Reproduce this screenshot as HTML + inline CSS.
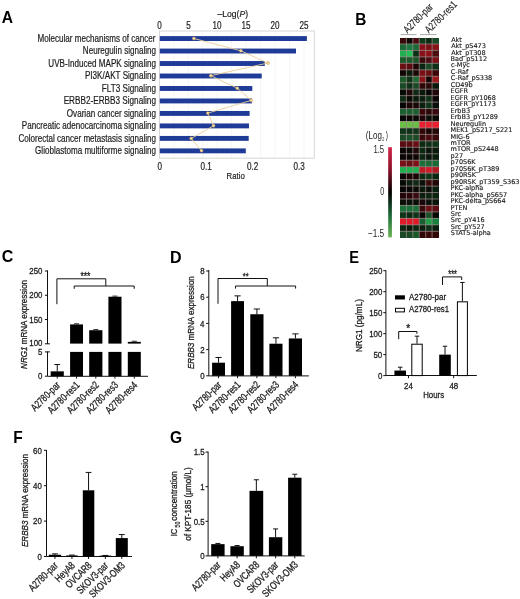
<!DOCTYPE html>
<html><head><meta charset="utf-8"><title>Figure</title>
<style>
html,body{margin:0;padding:0;background:#fff;}
body{width:520px;height:599px;overflow:hidden;}
svg{display:block;font-family:"Liberation Sans", Arial, sans-serif;filter:blur(0.3px);}
</style></head>
<body>
<svg width="520" height="599" viewBox="0 0 520 599" fill="#1c1c1c">
<rect width="520" height="599" fill="#fff"/>
<text transform="translate(1.68,22.60) scale(0.9510,1)" font-size="16.4" font-weight="bold" fill="#000">A</text>
<text transform="translate(355.22,24.50) scale(0.9396,1)" font-size="16.4" font-weight="bold" fill="#000">B</text>
<text transform="translate(1.76,262.40) scale(0.9756,1)" font-size="16.4" font-weight="bold" fill="#000">C</text>
<text transform="translate(169.88,262.50) scale(0.9796,1)" font-size="16.4" font-weight="bold" fill="#000">D</text>
<text transform="translate(349.28,262.50) scale(0.8929,1)" font-size="16.4" font-weight="bold" fill="#000">E</text>
<text transform="translate(13.22,442.90) scale(0.9445,1)" font-size="16.4" font-weight="bold" fill="#000">F</text>
<text transform="translate(169.88,443.20) scale(0.9505,1)" font-size="16.4" font-weight="bold" fill="#000">G</text>
<line x1="173.95" y1="31.00" x2="173.95" y2="158.20" stroke="#f3f3f0" stroke-width="0.8"/>
<line x1="188.40" y1="31.00" x2="188.40" y2="158.20" stroke="#f3f3f0" stroke-width="0.8"/>
<line x1="202.85" y1="31.00" x2="202.85" y2="158.20" stroke="#f3f3f0" stroke-width="0.8"/>
<line x1="217.30" y1="31.00" x2="217.30" y2="158.20" stroke="#f3f3f0" stroke-width="0.8"/>
<line x1="231.75" y1="31.00" x2="231.75" y2="158.20" stroke="#f3f3f0" stroke-width="0.8"/>
<line x1="246.20" y1="31.00" x2="246.20" y2="158.20" stroke="#f3f3f0" stroke-width="0.8"/>
<line x1="260.65" y1="31.00" x2="260.65" y2="158.20" stroke="#f3f3f0" stroke-width="0.8"/>
<line x1="275.10" y1="31.00" x2="275.10" y2="158.20" stroke="#f3f3f0" stroke-width="0.8"/>
<line x1="289.55" y1="31.00" x2="289.55" y2="158.20" stroke="#f3f3f0" stroke-width="0.8"/>
<line x1="304.00" y1="31.00" x2="304.00" y2="158.20" stroke="#f3f3f0" stroke-width="0.8"/>
<rect x="159.50" y="31.00" width="154.80" height="127.20" fill="none" stroke="#d6d6d6" stroke-width="1" />
<rect x="159.80" y="36.10" width="147.10" height="4.90" fill="#1f3b98" />
<text transform="translate(37.45,41.70) scale(0.8092,1)" font-size="10.0" stroke="#1c1c1c" stroke-width="0.2">Molecular mechanisms of cancer</text>
<rect x="159.80" y="48.58" width="136.20" height="4.90" fill="#1f3b98" />
<text transform="translate(82.85,54.22) scale(0.8092,1)" font-size="10.0" stroke="#1c1c1c" stroke-width="0.2">Neuregulin signaling</text>
<rect x="159.80" y="61.06" width="105.00" height="4.90" fill="#1f3b98" />
<text transform="translate(48.35,66.74) scale(0.8113,1)" font-size="10.0" stroke="#1c1c1c" stroke-width="0.2">UVB-Induced MAPK signaling</text>
<rect x="159.80" y="73.54" width="101.90" height="4.90" fill="#1f3b98" />
<text transform="translate(84.95,79.26) scale(0.8121,1)" font-size="10.0" stroke="#1c1c1c" stroke-width="0.2">PI3K/AKT Signaling</text>
<rect x="159.80" y="86.02" width="92.50" height="4.90" fill="#1f3b98" />
<text transform="translate(101.85,91.78) scale(0.8157,1)" font-size="10.0" stroke="#1c1c1c" stroke-width="0.2">FLT3 Signaling</text>
<rect x="159.80" y="98.50" width="92.10" height="4.90" fill="#1f3b98" />
<text transform="translate(63.64,104.30) scale(0.8196,1)" font-size="10.0" stroke="#1c1c1c" stroke-width="0.2">ERBB2-ERBB3 Signaling</text>
<rect x="159.80" y="110.98" width="89.80" height="4.90" fill="#1f3b98" />
<text transform="translate(66.79,116.82) scale(0.8118,1)" font-size="10.0" stroke="#1c1c1c" stroke-width="0.2">Ovarian cancer signaling</text>
<rect x="159.80" y="123.46" width="89.20" height="4.90" fill="#1f3b98" />
<text transform="translate(21.85,129.34) scale(0.8081,1)" font-size="10.0" stroke="#1c1c1c" stroke-width="0.2">Pancreatic adenocarcinoma signaling</text>
<rect x="159.80" y="135.94" width="88.90" height="4.90" fill="#1f3b98" />
<text transform="translate(18.40,141.86) scale(0.8071,1)" font-size="10.0" stroke="#1c1c1c" stroke-width="0.2">Colorectal cancer metastasis signaling</text>
<rect x="159.80" y="148.42" width="86.00" height="4.90" fill="#1f3b98" />
<text transform="translate(35.10,154.38) scale(0.8066,1)" font-size="10.0" stroke="#1c1c1c" stroke-width="0.2">Glioblastoma multiforme signaling</text>
<polyline points="193.9,38.5 240.8,50.8 268.0,63.0 210.8,75.7 237.3,88.2 251.2,100.4 207.8,113.1 213.5,125.8 191.2,138.5 201.5,150.7" fill="none" stroke="#e9cf98" stroke-width="0.9"/>
<circle cx="193.90" cy="38.50" r="1.45" fill="#f0e2b0" stroke="#d49c44" stroke-width="0.6"/>
<circle cx="240.80" cy="50.80" r="1.45" fill="#f0e2b0" stroke="#d49c44" stroke-width="0.6"/>
<circle cx="268.00" cy="63.00" r="1.45" fill="#f0e2b0" stroke="#d49c44" stroke-width="0.6"/>
<circle cx="210.80" cy="75.70" r="1.45" fill="#f0e2b0" stroke="#d49c44" stroke-width="0.6"/>
<circle cx="237.30" cy="88.20" r="1.45" fill="#f0e2b0" stroke="#d49c44" stroke-width="0.6"/>
<circle cx="251.20" cy="100.40" r="1.45" fill="#f0e2b0" stroke="#d49c44" stroke-width="0.6"/>
<circle cx="207.80" cy="113.10" r="1.45" fill="#f0e2b0" stroke="#d49c44" stroke-width="0.6"/>
<circle cx="213.50" cy="125.80" r="1.45" fill="#f0e2b0" stroke="#d49c44" stroke-width="0.6"/>
<circle cx="191.20" cy="138.50" r="1.45" fill="#f0e2b0" stroke="#d49c44" stroke-width="0.6"/>
<circle cx="201.50" cy="150.70" r="1.45" fill="#f0e2b0" stroke="#d49c44" stroke-width="0.6"/>
<text transform="translate(157.23,28.60) scale(0.7800,1)" font-size="10.4" stroke="#1c1c1c" stroke-width="0.2">0</text>
<text transform="translate(186.13,28.60) scale(0.7800,1)" font-size="10.4" stroke="#1c1c1c" stroke-width="0.2">5</text>
<text transform="translate(212.60,28.60) scale(0.7800,1)" font-size="10.4" stroke="#1c1c1c" stroke-width="0.2">10</text>
<text transform="translate(241.50,28.60) scale(0.7800,1)" font-size="10.4" stroke="#1c1c1c" stroke-width="0.2">15</text>
<text transform="translate(270.52,28.60) scale(0.7800,1)" font-size="10.4" stroke="#1c1c1c" stroke-width="0.2">20</text>
<text transform="translate(299.42,28.60) scale(0.7800,1)" font-size="10.4" stroke="#1c1c1c" stroke-width="0.2">25</text>
<text transform="translate(217.50,17.30) scale(0.8771,1)" font-size="9.8" stroke="#1c1c1c" stroke-width="0.2">–Log(<tspan font-style="italic">P</tspan>)</text>
<text transform="translate(157.53,169.70) scale(0.7800,1)" font-size="10.4" stroke="#1c1c1c" stroke-width="0.2">0</text>
<text transform="translate(200.60,169.70) scale(0.7800,1)" font-size="10.4" stroke="#1c1c1c" stroke-width="0.2">0.1</text>
<text transform="translate(247.00,169.70) scale(0.7800,1)" font-size="10.4" stroke="#1c1c1c" stroke-width="0.2">0.2</text>
<text transform="translate(293.40,169.70) scale(0.7800,1)" font-size="10.4" stroke="#1c1c1c" stroke-width="0.2">0.3</text>
<text transform="translate(226.58,178.70) scale(0.7952,1)" font-size="9.8" stroke="#1c1c1c" stroke-width="0.2">Ratio</text>
<g shape-rendering="crispEdges">
<rect x="400.00" y="37.50" width="6.47" height="6.51" fill="#3a0a0a" />
<rect x="406.42" y="37.50" width="6.47" height="6.51" fill="#120a06" />
<rect x="412.84" y="37.50" width="6.47" height="6.51" fill="#4a0c10" />
<rect x="419.26" y="37.50" width="6.47" height="6.51" fill="#0f3a1a" />
<rect x="425.68" y="37.50" width="6.47" height="6.51" fill="#0a2a10" />
<rect x="432.10" y="37.50" width="6.47" height="6.51" fill="#1a4a25" />
<rect x="400.00" y="43.96" width="6.47" height="6.51" fill="#1a6a35" />
<rect x="406.42" y="43.96" width="6.47" height="6.51" fill="#1a7a40" />
<rect x="412.84" y="43.96" width="6.47" height="6.51" fill="#1a6a35" />
<rect x="419.26" y="43.96" width="6.47" height="6.51" fill="#8a1018" />
<rect x="425.68" y="43.96" width="6.47" height="6.51" fill="#7a1015" />
<rect x="432.10" y="43.96" width="6.47" height="6.51" fill="#8a1518" />
<rect x="400.00" y="50.42" width="6.47" height="6.51" fill="#20b050" />
<rect x="406.42" y="50.42" width="6.47" height="6.51" fill="#25c055" />
<rect x="412.84" y="50.42" width="6.47" height="6.51" fill="#0a3015" />
<rect x="419.26" y="50.42" width="6.47" height="6.51" fill="#8a1018" />
<rect x="425.68" y="50.42" width="6.47" height="6.51" fill="#901018" />
<rect x="432.10" y="50.42" width="6.47" height="6.51" fill="#4a1010" />
<rect x="400.00" y="56.88" width="6.47" height="6.51" fill="#1a5a2a" />
<rect x="406.42" y="56.88" width="6.47" height="6.51" fill="#1a5a2a" />
<rect x="412.84" y="56.88" width="6.47" height="6.51" fill="#1a5528" />
<rect x="419.26" y="56.88" width="6.47" height="6.51" fill="#3a0a0a" />
<rect x="425.68" y="56.88" width="6.47" height="6.51" fill="#4a0c10" />
<rect x="432.10" y="56.88" width="6.47" height="6.51" fill="#7a1015" />
<rect x="400.00" y="63.34" width="6.47" height="6.51" fill="#6a1015" />
<rect x="406.42" y="63.34" width="6.47" height="6.51" fill="#5a0c10" />
<rect x="412.84" y="63.34" width="6.47" height="6.51" fill="#200505" />
<rect x="419.26" y="63.34" width="6.47" height="6.51" fill="#0a2512" />
<rect x="425.68" y="63.34" width="6.47" height="6.51" fill="#1a4a25" />
<rect x="432.10" y="63.34" width="6.47" height="6.51" fill="#0f3018" />
<rect x="400.00" y="69.80" width="6.47" height="6.51" fill="#100505" />
<rect x="406.42" y="69.80" width="6.47" height="6.51" fill="#0a1a0a" />
<rect x="412.84" y="69.80" width="6.47" height="6.51" fill="#1a0a05" />
<rect x="419.26" y="69.80" width="6.47" height="6.51" fill="#7a1015" />
<rect x="425.68" y="69.80" width="6.47" height="6.51" fill="#6a1010" />
<rect x="432.10" y="69.80" width="6.47" height="6.51" fill="#3a0808" />
<rect x="400.00" y="76.26" width="6.47" height="6.51" fill="#1a5a2a" />
<rect x="406.42" y="76.26" width="6.47" height="6.51" fill="#0f3518" />
<rect x="412.84" y="76.26" width="6.47" height="6.51" fill="#206a35" />
<rect x="419.26" y="76.26" width="6.47" height="6.51" fill="#8a1518" />
<rect x="425.68" y="76.26" width="6.47" height="6.51" fill="#150505" />
<rect x="432.10" y="76.26" width="6.47" height="6.51" fill="#9a1a1a" />
<rect x="400.00" y="82.72" width="6.47" height="6.51" fill="#1a4a25" />
<rect x="406.42" y="82.72" width="6.47" height="6.51" fill="#0f3018" />
<rect x="412.84" y="82.72" width="6.47" height="6.51" fill="#1a4a25" />
<rect x="419.26" y="82.72" width="6.47" height="6.51" fill="#300808" />
<rect x="425.68" y="82.72" width="6.47" height="6.51" fill="#2a0a0a" />
<rect x="432.10" y="82.72" width="6.47" height="6.51" fill="#0a1a0a" />
<rect x="400.00" y="89.18" width="6.47" height="6.51" fill="#050a05" />
<rect x="406.42" y="89.18" width="6.47" height="6.51" fill="#200808" />
<rect x="412.84" y="89.18" width="6.47" height="6.51" fill="#0f2a15" />
<rect x="419.26" y="89.18" width="6.47" height="6.51" fill="#0a1a0a" />
<rect x="425.68" y="89.18" width="6.47" height="6.51" fill="#050505" />
<rect x="432.10" y="89.18" width="6.47" height="6.51" fill="#200808" />
<rect x="400.00" y="95.64" width="6.47" height="6.51" fill="#0f2a15" />
<rect x="406.42" y="95.64" width="6.47" height="6.51" fill="#0a0a05" />
<rect x="412.84" y="95.64" width="6.47" height="6.51" fill="#0a1a0a" />
<rect x="419.26" y="95.64" width="6.47" height="6.51" fill="#0a1f10" />
<rect x="425.68" y="95.64" width="6.47" height="6.51" fill="#0f3018" />
<rect x="432.10" y="95.64" width="6.47" height="6.51" fill="#0a0505" />
<rect x="400.00" y="102.10" width="6.47" height="6.51" fill="#050505" />
<rect x="406.42" y="102.10" width="6.47" height="6.51" fill="#1a0505" />
<rect x="412.84" y="102.10" width="6.47" height="6.51" fill="#1a0808" />
<rect x="419.26" y="102.10" width="6.47" height="6.51" fill="#0a1f10" />
<rect x="425.68" y="102.10" width="6.47" height="6.51" fill="#0f3518" />
<rect x="432.10" y="102.10" width="6.47" height="6.51" fill="#0a100a" />
<rect x="400.00" y="108.56" width="6.47" height="6.51" fill="#1a6030" />
<rect x="406.42" y="108.56" width="6.47" height="6.51" fill="#1a6030" />
<rect x="412.84" y="108.56" width="6.47" height="6.51" fill="#1a6030" />
<rect x="419.26" y="108.56" width="6.47" height="6.51" fill="#3a0808" />
<rect x="425.68" y="108.56" width="6.47" height="6.51" fill="#2a0808" />
<rect x="432.10" y="108.56" width="6.47" height="6.51" fill="#3a0a10" />
<rect x="400.00" y="115.02" width="6.47" height="6.51" fill="#050505" />
<rect x="406.42" y="115.02" width="6.47" height="6.51" fill="#0a0505" />
<rect x="412.84" y="115.02" width="6.47" height="6.51" fill="#0a0a05" />
<rect x="419.26" y="115.02" width="6.47" height="6.51" fill="#200508" />
<rect x="425.68" y="115.02" width="6.47" height="6.51" fill="#0a0f0a" />
<rect x="432.10" y="115.02" width="6.47" height="6.51" fill="#0a0a05" />
<rect x="400.00" y="121.48" width="6.47" height="6.51" fill="#6abf45" />
<rect x="406.42" y="121.48" width="6.47" height="6.51" fill="#6abf45" />
<rect x="412.84" y="121.48" width="6.47" height="6.51" fill="#6abf45" />
<rect x="419.26" y="121.48" width="6.47" height="6.51" fill="#e82030" />
<rect x="425.68" y="121.48" width="6.47" height="6.51" fill="#e82030" />
<rect x="432.10" y="121.48" width="6.47" height="6.51" fill="#e82030" />
<rect x="400.00" y="127.94" width="6.47" height="6.51" fill="#0f3518" />
<rect x="406.42" y="127.94" width="6.47" height="6.51" fill="#0f3018" />
<rect x="412.84" y="127.94" width="6.47" height="6.51" fill="#0f3518" />
<rect x="419.26" y="127.94" width="6.47" height="6.51" fill="#300808" />
<rect x="425.68" y="127.94" width="6.47" height="6.51" fill="#1a0505" />
<rect x="432.10" y="127.94" width="6.47" height="6.51" fill="#250808" />
<rect x="400.00" y="134.40" width="6.47" height="6.51" fill="#1a4a25" />
<rect x="406.42" y="134.40" width="6.47" height="6.51" fill="#1a5028" />
<rect x="412.84" y="134.40" width="6.47" height="6.51" fill="#1a4a25" />
<rect x="419.26" y="134.40" width="6.47" height="6.51" fill="#3a0a0a" />
<rect x="425.68" y="134.40" width="6.47" height="6.51" fill="#4a0a10" />
<rect x="432.10" y="134.40" width="6.47" height="6.51" fill="#3a0a0a" />
<rect x="400.00" y="140.86" width="6.47" height="6.51" fill="#5a0c10" />
<rect x="406.42" y="140.86" width="6.47" height="6.51" fill="#5a0c10" />
<rect x="412.84" y="140.86" width="6.47" height="6.51" fill="#6a1015" />
<rect x="419.26" y="140.86" width="6.47" height="6.51" fill="#0a2a12" />
<rect x="425.68" y="140.86" width="6.47" height="6.51" fill="#0f3018" />
<rect x="432.10" y="140.86" width="6.47" height="6.51" fill="#0f3518" />
<rect x="400.00" y="147.32" width="6.47" height="6.51" fill="#0a0505" />
<rect x="406.42" y="147.32" width="6.47" height="6.51" fill="#0a0a05" />
<rect x="412.84" y="147.32" width="6.47" height="6.51" fill="#200808" />
<rect x="419.26" y="147.32" width="6.47" height="6.51" fill="#0a2a12" />
<rect x="425.68" y="147.32" width="6.47" height="6.51" fill="#0a150a" />
<rect x="432.10" y="147.32" width="6.47" height="6.51" fill="#0a1a0a" />
<rect x="400.00" y="153.78" width="6.47" height="6.51" fill="#0a0505" />
<rect x="406.42" y="153.78" width="6.47" height="6.51" fill="#0a0505" />
<rect x="412.84" y="153.78" width="6.47" height="6.51" fill="#100505" />
<rect x="419.26" y="153.78" width="6.47" height="6.51" fill="#0a2510" />
<rect x="425.68" y="153.78" width="6.47" height="6.51" fill="#0a150a" />
<rect x="432.10" y="153.78" width="6.47" height="6.51" fill="#0a200f" />
<rect x="400.00" y="160.24" width="6.47" height="6.51" fill="#7a1018" />
<rect x="406.42" y="160.24" width="6.47" height="6.51" fill="#6a1015" />
<rect x="412.84" y="160.24" width="6.47" height="6.51" fill="#801018" />
<rect x="419.26" y="160.24" width="6.47" height="6.51" fill="#1a7038" />
<rect x="425.68" y="160.24" width="6.47" height="6.51" fill="#1a6a35" />
<rect x="432.10" y="160.24" width="6.47" height="6.51" fill="#1a6a35" />
<rect x="400.00" y="166.70" width="6.47" height="6.51" fill="#20b050" />
<rect x="406.42" y="166.70" width="6.47" height="6.51" fill="#20b050" />
<rect x="412.84" y="166.70" width="6.47" height="6.51" fill="#20b050" />
<rect x="419.26" y="166.70" width="6.47" height="6.51" fill="#c01a25" />
<rect x="425.68" y="166.70" width="6.47" height="6.51" fill="#d01a28" />
<rect x="432.10" y="166.70" width="6.47" height="6.51" fill="#b01a22" />
<rect x="400.00" y="173.16" width="6.47" height="6.51" fill="#0a0505" />
<rect x="406.42" y="173.16" width="6.47" height="6.51" fill="#1a0505" />
<rect x="412.84" y="173.16" width="6.47" height="6.51" fill="#1a0505" />
<rect x="419.26" y="173.16" width="6.47" height="6.51" fill="#0a2a12" />
<rect x="425.68" y="173.16" width="6.47" height="6.51" fill="#0f3518" />
<rect x="432.10" y="173.16" width="6.47" height="6.51" fill="#0a2510" />
<rect x="400.00" y="179.62" width="6.47" height="6.51" fill="#050a05" />
<rect x="406.42" y="179.62" width="6.47" height="6.51" fill="#0a1f0f" />
<rect x="412.84" y="179.62" width="6.47" height="6.51" fill="#0f2a15" />
<rect x="419.26" y="179.62" width="6.47" height="6.51" fill="#0a100a" />
<rect x="425.68" y="179.62" width="6.47" height="6.51" fill="#3a0a0a" />
<rect x="432.10" y="179.62" width="6.47" height="6.51" fill="#200808" />
<rect x="400.00" y="186.08" width="6.47" height="6.51" fill="#050505" />
<rect x="406.42" y="186.08" width="6.47" height="6.51" fill="#0a0505" />
<rect x="412.84" y="186.08" width="6.47" height="6.51" fill="#0a0a05" />
<rect x="419.26" y="186.08" width="6.47" height="6.51" fill="#0a1a0a" />
<rect x="425.68" y="186.08" width="6.47" height="6.51" fill="#0a0f0a" />
<rect x="432.10" y="186.08" width="6.47" height="6.51" fill="#0a200f" />
<rect x="400.00" y="192.54" width="6.47" height="6.51" fill="#200508" />
<rect x="406.42" y="192.54" width="6.47" height="6.51" fill="#2a0508" />
<rect x="412.84" y="192.54" width="6.47" height="6.51" fill="#3a0a10" />
<rect x="419.26" y="192.54" width="6.47" height="6.51" fill="#0a1f0f" />
<rect x="425.68" y="192.54" width="6.47" height="6.51" fill="#0a2510" />
<rect x="432.10" y="192.54" width="6.47" height="6.51" fill="#0a2510" />
<rect x="400.00" y="199.00" width="6.47" height="6.51" fill="#0a0f05" />
<rect x="406.42" y="199.00" width="6.47" height="6.51" fill="#0a100a" />
<rect x="412.84" y="199.00" width="6.47" height="6.51" fill="#0a0f05" />
<rect x="419.26" y="199.00" width="6.47" height="6.51" fill="#1a0508" />
<rect x="425.68" y="199.00" width="6.47" height="6.51" fill="#0a100a" />
<rect x="432.10" y="199.00" width="6.47" height="6.51" fill="#0a150a" />
<rect x="400.00" y="205.46" width="6.47" height="6.51" fill="#1a7038" />
<rect x="406.42" y="205.46" width="6.47" height="6.51" fill="#1a7038" />
<rect x="412.84" y="205.46" width="6.47" height="6.51" fill="#1a7038" />
<rect x="419.26" y="205.46" width="6.47" height="6.51" fill="#3a0a0a" />
<rect x="425.68" y="205.46" width="6.47" height="6.51" fill="#6a1015" />
<rect x="432.10" y="205.46" width="6.47" height="6.51" fill="#5a0c12" />
<rect x="400.00" y="211.92" width="6.47" height="6.51" fill="#0f3518" />
<rect x="406.42" y="211.92" width="6.47" height="6.51" fill="#0a2a12" />
<rect x="412.84" y="211.92" width="6.47" height="6.51" fill="#0f3518" />
<rect x="419.26" y="211.92" width="6.47" height="6.51" fill="#050505" />
<rect x="425.68" y="211.92" width="6.47" height="6.51" fill="#1a5028" />
<rect x="432.10" y="211.92" width="6.47" height="6.51" fill="#050a05" />
<rect x="400.00" y="218.38" width="6.47" height="6.51" fill="#e01a28" />
<rect x="406.42" y="218.38" width="6.47" height="6.51" fill="#e01a28" />
<rect x="412.84" y="218.38" width="6.47" height="6.51" fill="#e01a28" />
<rect x="419.26" y="218.38" width="6.47" height="6.51" fill="#1a6030" />
<rect x="425.68" y="218.38" width="6.47" height="6.51" fill="#20a045" />
<rect x="432.10" y="218.38" width="6.47" height="6.51" fill="#1a8040" />
<rect x="400.00" y="224.84" width="6.47" height="6.51" fill="#0a2510" />
<rect x="406.42" y="224.84" width="6.47" height="6.51" fill="#0a1a0a" />
<rect x="412.84" y="224.84" width="6.47" height="6.51" fill="#0a2510" />
<rect x="419.26" y="224.84" width="6.47" height="6.51" fill="#0a200f" />
<rect x="425.68" y="224.84" width="6.47" height="6.51" fill="#0f3018" />
<rect x="432.10" y="224.84" width="6.47" height="6.51" fill="#0a1f0f" />
<rect x="400.00" y="231.30" width="6.47" height="6.51" fill="#1a4a25" />
<rect x="406.42" y="231.30" width="6.47" height="6.51" fill="#1a4a25" />
<rect x="412.84" y="231.30" width="6.47" height="6.51" fill="#1a5a2a" />
<rect x="419.26" y="231.30" width="6.47" height="6.51" fill="#300808" />
<rect x="425.68" y="231.30" width="6.47" height="6.51" fill="#3a0a0a" />
<rect x="432.10" y="231.30" width="6.47" height="6.51" fill="#300808" />
</g>
<line x1="406.42" y1="37.50" x2="406.42" y2="237.76" stroke="#9a8a8a" stroke-width="0.75"/>
<line x1="412.84" y1="37.50" x2="412.84" y2="237.76" stroke="#9a8a8a" stroke-width="0.75"/>
<line x1="419.26" y1="37.50" x2="419.26" y2="237.76" stroke="#9a8a8a" stroke-width="0.75"/>
<line x1="425.68" y1="37.50" x2="425.68" y2="237.76" stroke="#9a8a8a" stroke-width="0.75"/>
<line x1="432.10" y1="37.50" x2="432.10" y2="237.76" stroke="#9a8a8a" stroke-width="0.75"/>
<line x1="400.00" y1="43.96" x2="438.52" y2="43.96" stroke="#9a8a8a" stroke-width="0.75"/>
<line x1="400.00" y1="50.42" x2="438.52" y2="50.42" stroke="#9a8a8a" stroke-width="0.75"/>
<line x1="400.00" y1="56.88" x2="438.52" y2="56.88" stroke="#9a8a8a" stroke-width="0.75"/>
<line x1="400.00" y1="63.34" x2="438.52" y2="63.34" stroke="#9a8a8a" stroke-width="0.75"/>
<line x1="400.00" y1="69.80" x2="438.52" y2="69.80" stroke="#9a8a8a" stroke-width="0.75"/>
<line x1="400.00" y1="76.26" x2="438.52" y2="76.26" stroke="#9a8a8a" stroke-width="0.75"/>
<line x1="400.00" y1="82.72" x2="438.52" y2="82.72" stroke="#9a8a8a" stroke-width="0.75"/>
<line x1="400.00" y1="89.18" x2="438.52" y2="89.18" stroke="#9a8a8a" stroke-width="0.75"/>
<line x1="400.00" y1="95.64" x2="438.52" y2="95.64" stroke="#9a8a8a" stroke-width="0.75"/>
<line x1="400.00" y1="102.10" x2="438.52" y2="102.10" stroke="#9a8a8a" stroke-width="0.75"/>
<line x1="400.00" y1="108.56" x2="438.52" y2="108.56" stroke="#9a8a8a" stroke-width="0.75"/>
<line x1="400.00" y1="115.02" x2="438.52" y2="115.02" stroke="#9a8a8a" stroke-width="0.75"/>
<line x1="400.00" y1="121.48" x2="438.52" y2="121.48" stroke="#9a8a8a" stroke-width="0.75"/>
<line x1="400.00" y1="127.94" x2="438.52" y2="127.94" stroke="#9a8a8a" stroke-width="0.75"/>
<line x1="400.00" y1="134.40" x2="438.52" y2="134.40" stroke="#9a8a8a" stroke-width="0.75"/>
<line x1="400.00" y1="140.86" x2="438.52" y2="140.86" stroke="#9a8a8a" stroke-width="0.75"/>
<line x1="400.00" y1="147.32" x2="438.52" y2="147.32" stroke="#9a8a8a" stroke-width="0.75"/>
<line x1="400.00" y1="153.78" x2="438.52" y2="153.78" stroke="#9a8a8a" stroke-width="0.75"/>
<line x1="400.00" y1="160.24" x2="438.52" y2="160.24" stroke="#9a8a8a" stroke-width="0.75"/>
<line x1="400.00" y1="166.70" x2="438.52" y2="166.70" stroke="#9a8a8a" stroke-width="0.75"/>
<line x1="400.00" y1="173.16" x2="438.52" y2="173.16" stroke="#9a8a8a" stroke-width="0.75"/>
<line x1="400.00" y1="179.62" x2="438.52" y2="179.62" stroke="#9a8a8a" stroke-width="0.75"/>
<line x1="400.00" y1="186.08" x2="438.52" y2="186.08" stroke="#9a8a8a" stroke-width="0.75"/>
<line x1="400.00" y1="192.54" x2="438.52" y2="192.54" stroke="#9a8a8a" stroke-width="0.75"/>
<line x1="400.00" y1="199.00" x2="438.52" y2="199.00" stroke="#9a8a8a" stroke-width="0.75"/>
<line x1="400.00" y1="205.46" x2="438.52" y2="205.46" stroke="#9a8a8a" stroke-width="0.75"/>
<line x1="400.00" y1="211.92" x2="438.52" y2="211.92" stroke="#9a8a8a" stroke-width="0.75"/>
<line x1="400.00" y1="218.38" x2="438.52" y2="218.38" stroke="#9a8a8a" stroke-width="0.75"/>
<line x1="400.00" y1="224.84" x2="438.52" y2="224.84" stroke="#9a8a8a" stroke-width="0.75"/>
<line x1="400.00" y1="231.30" x2="438.52" y2="231.30" stroke="#9a8a8a" stroke-width="0.75"/>
<text transform="translate(451.13,41.60)" font-size="6.5" font-family='"DejaVu Sans", sans-serif' stroke="#1c1c1c" stroke-width="0.15">Akt</text>
<text transform="translate(451.13,48.06)" font-size="6.5" font-family='"DejaVu Sans", sans-serif' stroke="#1c1c1c" stroke-width="0.15">Akt_pS473</text>
<text transform="translate(451.13,54.52)" font-size="6.5" font-family='"DejaVu Sans", sans-serif' stroke="#1c1c1c" stroke-width="0.15">Akt_pT308</text>
<text transform="translate(450.55,60.98)" font-size="6.5" font-family='"DejaVu Sans", sans-serif' stroke="#1c1c1c" stroke-width="0.15">Bad_pS112</text>
<text transform="translate(450.88,67.44)" font-size="6.5" font-family='"DejaVu Sans", sans-serif' stroke="#1c1c1c" stroke-width="0.15">c-Myc</text>
<text transform="translate(450.81,73.90)" font-size="6.5" font-family='"DejaVu Sans", sans-serif' stroke="#1c1c1c" stroke-width="0.15">C-Raf</text>
<text transform="translate(450.81,80.36)" font-size="6.5" font-family='"DejaVu Sans", sans-serif' stroke="#1c1c1c" stroke-width="0.15">C-Raf_pS338</text>
<text transform="translate(450.81,86.82)" font-size="6.5" font-family='"DejaVu Sans", sans-serif' stroke="#1c1c1c" stroke-width="0.15">CD49b</text>
<text transform="translate(450.55,93.28)" font-size="6.5" font-family='"DejaVu Sans", sans-serif' stroke="#1c1c1c" stroke-width="0.15">EGFR</text>
<text transform="translate(450.55,99.74)" font-size="6.5" font-family='"DejaVu Sans", sans-serif' stroke="#1c1c1c" stroke-width="0.15">EGFR_pY1068</text>
<text transform="translate(450.55,106.20)" font-size="6.5" font-family='"DejaVu Sans", sans-serif' stroke="#1c1c1c" stroke-width="0.15">EGFR_pY1173</text>
<text transform="translate(450.55,112.66)" font-size="6.5" font-family='"DejaVu Sans", sans-serif' stroke="#1c1c1c" stroke-width="0.15">ErbB3</text>
<text transform="translate(450.55,119.12)" font-size="6.5" font-family='"DejaVu Sans", sans-serif' stroke="#1c1c1c" stroke-width="0.15">ErbB3_pY1289</text>
<text transform="translate(450.55,125.58)" font-size="6.5" font-family='"DejaVu Sans", sans-serif' stroke="#1c1c1c" stroke-width="0.15">Neuregulin</text>
<text transform="translate(450.55,132.04)" font-size="6.5" font-family='"DejaVu Sans", sans-serif' stroke="#1c1c1c" stroke-width="0.15">MEK1_pS217_S221</text>
<text transform="translate(450.55,138.50)" font-size="6.5" font-family='"DejaVu Sans", sans-serif' stroke="#1c1c1c" stroke-width="0.15">MIG-6</text>
<text transform="translate(450.62,144.96)" font-size="6.5" font-family='"DejaVu Sans", sans-serif' stroke="#1c1c1c" stroke-width="0.15">mTOR</text>
<text transform="translate(450.62,151.42)" font-size="6.5" font-family='"DejaVu Sans", sans-serif' stroke="#1c1c1c" stroke-width="0.15">mTOR_pS2448</text>
<text transform="translate(450.62,157.88)" font-size="6.5" font-family='"DejaVu Sans", sans-serif' stroke="#1c1c1c" stroke-width="0.15">p27</text>
<text transform="translate(450.62,164.34)" font-size="6.5" font-family='"DejaVu Sans", sans-serif' stroke="#1c1c1c" stroke-width="0.15">p70S6K</text>
<text transform="translate(450.62,170.80)" font-size="6.5" font-family='"DejaVu Sans", sans-serif' stroke="#1c1c1c" stroke-width="0.15">p70S6K_pT389</text>
<text transform="translate(450.62,177.26)" font-size="6.5" font-family='"DejaVu Sans", sans-serif' stroke="#1c1c1c" stroke-width="0.15">p90RSK</text>
<text transform="translate(450.62,183.72)" font-size="6.5" font-family='"DejaVu Sans", sans-serif' stroke="#1c1c1c" stroke-width="0.15">p90RSK_pT359_S363</text>
<text transform="translate(450.55,190.18)" font-size="6.5" font-family='"DejaVu Sans", sans-serif' stroke="#1c1c1c" stroke-width="0.15">PKC-alpha</text>
<text transform="translate(450.55,196.64)" font-size="6.5" font-family='"DejaVu Sans", sans-serif' stroke="#1c1c1c" stroke-width="0.15">PKC-alpha_pS657</text>
<text transform="translate(450.55,203.10)" font-size="6.5" font-family='"DejaVu Sans", sans-serif' stroke="#1c1c1c" stroke-width="0.15">PKC-delta_pS664</text>
<text transform="translate(450.55,209.56)" font-size="6.5" font-family='"DejaVu Sans", sans-serif' stroke="#1c1c1c" stroke-width="0.15">PTEN</text>
<text transform="translate(450.75,216.02)" font-size="6.5" font-family='"DejaVu Sans", sans-serif' stroke="#1c1c1c" stroke-width="0.15">Src</text>
<text transform="translate(450.75,222.48)" font-size="6.5" font-family='"DejaVu Sans", sans-serif' stroke="#1c1c1c" stroke-width="0.15">Src_pY416</text>
<text transform="translate(450.75,228.94)" font-size="6.5" font-family='"DejaVu Sans", sans-serif' stroke="#1c1c1c" stroke-width="0.15">Src_pY527</text>
<text transform="translate(450.75,235.40)" font-size="6.5" font-family='"DejaVu Sans", sans-serif' stroke="#1c1c1c" stroke-width="0.15">STAT5-alpha</text>
<line x1="400.50" y1="34.60" x2="416.50" y2="34.60" stroke="#a8a8a8" stroke-width="1.0"/>
<line x1="420.00" y1="34.60" x2="436.50" y2="34.60" stroke="#a8a8a8" stroke-width="1.0"/>
<text transform="translate(407.50,33.80) rotate(-45) scale(0.7562,1)" font-size="10.5" stroke="#1c1c1c" stroke-width="0.15">A2780-par</text>
<text transform="translate(429.00,33.80) rotate(-45) scale(0.7440,1)" font-size="10.5" stroke="#1c1c1c" stroke-width="0.15">A2780-res1</text>
<defs><linearGradient id="cb" x1="0" y1="0" x2="0" y2="1"><stop offset="0" stop-color="#d42448"/><stop offset="0.25" stop-color="#8a1228"/><stop offset="0.5" stop-color="#000000"/><stop offset="0.75" stop-color="#1e6a3a"/><stop offset="1" stop-color="#6cb455"/></linearGradient></defs>
<rect x="388.20" y="147.20" width="3.70" height="90.20" fill="url(#cb)" />
<text transform="translate(365.82,138.70) scale(0.8032,1)" font-size="10.0">(Log</text>
<text transform="translate(382.13,141.20) scale(0.5797,1)" font-size="6.0">2</text>
<text transform="translate(385.63,138.70) scale(0.6538,1)" font-size="10.0">)</text>
<text transform="translate(373.38,153.30) scale(0.7565,1)" font-size="10.2">1.5</text>
<text transform="translate(380.22,194.90) scale(0.6944,1)" font-size="10.2">0</text>
<text transform="translate(367.89,236.80) scale(0.8092,1)" font-size="10.2">−1.5</text>
<line x1="47.50" y1="270.40" x2="47.50" y2="344.00" stroke="#111" stroke-width="1"/>
<line x1="44.90" y1="343.80" x2="49.90" y2="343.80" stroke="#111" stroke-width="1"/>
<text transform="translate(29.33,345.80) scale(0.8400,1)" font-size="9.4" stroke="#1c1c1c" stroke-width="0.3">100</text>
<line x1="44.90" y1="319.53" x2="47.50" y2="319.53" stroke="#111" stroke-width="1"/>
<text transform="translate(29.33,322.73) scale(0.8400,1)" font-size="9.4" stroke="#1c1c1c" stroke-width="0.3">150</text>
<line x1="44.90" y1="295.27" x2="47.50" y2="295.27" stroke="#111" stroke-width="1"/>
<text transform="translate(29.33,298.47) scale(0.8400,1)" font-size="9.4" stroke="#1c1c1c" stroke-width="0.3">200</text>
<line x1="44.90" y1="271.00" x2="47.50" y2="271.00" stroke="#111" stroke-width="1"/>
<text transform="translate(29.33,274.20) scale(0.8400,1)" font-size="9.4" stroke="#1c1c1c" stroke-width="0.3">250</text>
<line x1="47.50" y1="351.60" x2="47.50" y2="376.20" stroke="#111" stroke-width="1"/>
<line x1="44.90" y1="376.20" x2="47.50" y2="376.20" stroke="#111" stroke-width="1"/>
<text transform="translate(38.09,379.40) scale(0.8400,1)" font-size="9.4" stroke="#1c1c1c" stroke-width="0.3">0</text>
<line x1="44.90" y1="351.90" x2="49.90" y2="351.90" stroke="#111" stroke-width="1"/>
<text transform="translate(38.09,355.10) scale(0.8400,1)" font-size="9.4" stroke="#1c1c1c" stroke-width="0.3">5</text>
<line x1="47.50" y1="376.30" x2="148.00" y2="376.30" stroke="#111" stroke-width="1"/>
<line x1="57.25" y1="376.20" x2="57.25" y2="378.60" stroke="#111" stroke-width="1"/>
<line x1="57.25" y1="371.34" x2="57.25" y2="364.54" stroke="#111" stroke-width="1.0"/>
<line x1="54.35" y1="364.54" x2="60.15" y2="364.54" stroke="#111" stroke-width="1.0"/>
<rect x="50.70" y="371.34" width="13.10" height="4.86" fill="#000" />
<text transform="translate(35.05,411.70) rotate(-45) scale(0.7500,1)" font-size="10.4" stroke="#1c1c1c" stroke-width="0.3">A2780-par</text>
<line x1="76.55" y1="376.20" x2="76.55" y2="378.60" stroke="#111" stroke-width="1"/>
<rect x="70.10" y="351.90" width="12.90" height="24.30" fill="#000" />
<rect x="70.10" y="324.39" width="12.90" height="19.21" fill="#000" />
<line x1="74.05" y1="323.79" x2="79.05" y2="323.79" stroke="#111" stroke-width="0.9"/>
<text transform="translate(51.81,414.24) rotate(-45) scale(0.7500,1)" font-size="10.4" stroke="#1c1c1c" stroke-width="0.3">A2780-res1</text>
<line x1="95.80" y1="376.20" x2="95.80" y2="378.60" stroke="#111" stroke-width="1"/>
<rect x="89.20" y="351.90" width="13.20" height="24.30" fill="#000" />
<rect x="89.20" y="330.21" width="13.20" height="13.39" fill="#000" />
<line x1="93.30" y1="329.61" x2="98.30" y2="329.61" stroke="#111" stroke-width="0.9"/>
<text transform="translate(71.06,414.24) rotate(-45) scale(0.7500,1)" font-size="10.4" stroke="#1c1c1c" stroke-width="0.3">A2780-res2</text>
<line x1="114.95" y1="376.20" x2="114.95" y2="378.60" stroke="#111" stroke-width="1"/>
<rect x="108.40" y="351.90" width="13.10" height="24.30" fill="#000" />
<rect x="108.40" y="296.72" width="13.10" height="46.88" fill="#000" />
<line x1="112.45" y1="296.12" x2="117.45" y2="296.12" stroke="#111" stroke-width="0.9"/>
<text transform="translate(90.21,414.24) rotate(-45) scale(0.7500,1)" font-size="10.4" stroke="#1c1c1c" stroke-width="0.3">A2780-res3</text>
<line x1="134.30" y1="376.20" x2="134.30" y2="378.60" stroke="#111" stroke-width="1"/>
<rect x="127.80" y="351.90" width="13.00" height="24.30" fill="#000" />
<rect x="127.80" y="341.86" width="13.00" height="1.74" fill="#000" />
<line x1="131.80" y1="341.26" x2="136.80" y2="341.26" stroke="#111" stroke-width="0.9"/>
<text transform="translate(109.45,414.35) rotate(-45) scale(0.7500,1)" font-size="10.4" stroke="#1c1c1c" stroke-width="0.3">A2780-res4</text>
<path d="M56.9,304.2 V278.8 H105.8 V286.0" stroke="#111" stroke-width="1.0" fill="none"/>
<path d="M74.2,288.8 V286.0 H134.2 V288.8" stroke="#111" stroke-width="1.0" fill="none"/>
<text transform="translate(80.43,279.60) scale(0.8496,1)" font-size="10.0" stroke="#1c1c1c" stroke-width="0.3">***</text>
<text transform="translate(26.90,368.94) rotate(-90) scale(0.8402,1)" font-size="9.6" stroke="#1c1c1c" stroke-width="0.3"><tspan font-style="italic">NRG1</tspan> mRNA expression</text>
<line x1="208.80" y1="270.00" x2="208.80" y2="375.80" stroke="#111" stroke-width="1"/>
<line x1="206.20" y1="375.80" x2="208.80" y2="375.80" stroke="#111" stroke-width="1"/>
<text transform="translate(200.19,379.00) scale(0.8400,1)" font-size="9.4" stroke="#1c1c1c" stroke-width="0.3">0</text>
<line x1="206.20" y1="349.60" x2="208.80" y2="349.60" stroke="#111" stroke-width="1"/>
<text transform="translate(200.27,352.80) scale(0.8400,1)" font-size="9.4" stroke="#1c1c1c" stroke-width="0.3">2</text>
<line x1="206.20" y1="323.40" x2="208.80" y2="323.40" stroke="#111" stroke-width="1"/>
<text transform="translate(200.12,326.60) scale(0.8400,1)" font-size="9.4" stroke="#1c1c1c" stroke-width="0.3">4</text>
<line x1="206.20" y1="297.20" x2="208.80" y2="297.20" stroke="#111" stroke-width="1"/>
<text transform="translate(200.27,300.40) scale(0.8400,1)" font-size="9.4" stroke="#1c1c1c" stroke-width="0.3">6</text>
<line x1="206.20" y1="271.00" x2="208.80" y2="271.00" stroke="#111" stroke-width="1"/>
<text transform="translate(200.27,274.20) scale(0.8400,1)" font-size="9.4" stroke="#1c1c1c" stroke-width="0.3">8</text>
<line x1="208.80" y1="375.90" x2="308.90" y2="375.90" stroke="#111" stroke-width="1"/>
<line x1="218.55" y1="375.80" x2="218.55" y2="378.20" stroke="#111" stroke-width="1"/>
<line x1="218.55" y1="362.70" x2="218.55" y2="357.46" stroke="#111" stroke-width="1.0"/>
<line x1="215.45" y1="357.46" x2="221.65" y2="357.46" stroke="#111" stroke-width="1.0"/>
<rect x="212.10" y="362.70" width="12.90" height="13.10" fill="#000" />
<text transform="translate(196.35,411.30) rotate(-45) scale(0.7500,1)" font-size="10.4" stroke="#1c1c1c" stroke-width="0.3">A2780-par</text>
<line x1="237.55" y1="375.80" x2="237.55" y2="378.20" stroke="#111" stroke-width="1"/>
<line x1="237.55" y1="301.13" x2="237.55" y2="295.89" stroke="#111" stroke-width="1.0"/>
<line x1="234.45" y1="295.89" x2="240.65" y2="295.89" stroke="#111" stroke-width="1.0"/>
<rect x="231.10" y="301.13" width="12.90" height="74.67" fill="#000" />
<text transform="translate(212.81,413.84) rotate(-45) scale(0.7500,1)" font-size="10.4" stroke="#1c1c1c" stroke-width="0.3">A2780-res1</text>
<line x1="256.90" y1="375.80" x2="256.90" y2="378.20" stroke="#111" stroke-width="1"/>
<line x1="256.90" y1="314.23" x2="256.90" y2="308.99" stroke="#111" stroke-width="1.0"/>
<line x1="253.80" y1="308.99" x2="260.00" y2="308.99" stroke="#111" stroke-width="1.0"/>
<rect x="250.30" y="314.23" width="13.20" height="61.57" fill="#000" />
<text transform="translate(232.16,413.84) rotate(-45) scale(0.7500,1)" font-size="10.4" stroke="#1c1c1c" stroke-width="0.3">A2780-res2</text>
<line x1="275.95" y1="375.80" x2="275.95" y2="378.20" stroke="#111" stroke-width="1"/>
<line x1="275.95" y1="343.71" x2="275.95" y2="337.81" stroke="#111" stroke-width="1.0"/>
<line x1="272.85" y1="337.81" x2="279.05" y2="337.81" stroke="#111" stroke-width="1.0"/>
<rect x="269.40" y="343.71" width="13.10" height="32.09" fill="#000" />
<text transform="translate(251.21,413.84) rotate(-45) scale(0.7500,1)" font-size="10.4" stroke="#1c1c1c" stroke-width="0.3">A2780-res3</text>
<line x1="295.40" y1="375.80" x2="295.40" y2="378.20" stroke="#111" stroke-width="1"/>
<line x1="295.40" y1="338.47" x2="295.40" y2="333.88" stroke="#111" stroke-width="1.0"/>
<line x1="292.30" y1="333.88" x2="298.50" y2="333.88" stroke="#111" stroke-width="1.0"/>
<rect x="288.80" y="338.47" width="13.20" height="37.33" fill="#000" />
<text transform="translate(270.55,413.95) rotate(-45) scale(0.7500,1)" font-size="10.4" stroke="#1c1c1c" stroke-width="0.3">A2780-res4</text>
<path d="M218.0,303.8 V278.5 H267.3 V286.0" stroke="#111" stroke-width="1.0" fill="none"/>
<path d="M235.5,288.6 V286.0 H295.6 V288.6" stroke="#111" stroke-width="1.0" fill="none"/>
<text transform="translate(242.75,279.10) scale(0.7568,1)" font-size="10.0" stroke="#1c1c1c" stroke-width="0.3">**</text>
<text transform="translate(193.80,369.04) rotate(-90) scale(0.8372,1)" font-size="9.6" stroke="#1c1c1c" stroke-width="0.3"><tspan font-style="italic">ERBB3</tspan> mRNA expression</text>
<line x1="385.90" y1="270.20" x2="385.90" y2="375.60" stroke="#111" stroke-width="1"/>
<line x1="383.30" y1="375.60" x2="385.90" y2="375.60" stroke="#111" stroke-width="1"/>
<text transform="translate(377.89,378.80) scale(0.8400,1)" font-size="9.4" stroke="#1c1c1c" stroke-width="0.3">0</text>
<line x1="383.30" y1="354.62" x2="385.90" y2="354.62" stroke="#111" stroke-width="1"/>
<text transform="translate(373.47,357.82) scale(0.8400,1)" font-size="9.4" stroke="#1c1c1c" stroke-width="0.3">50</text>
<line x1="383.30" y1="333.64" x2="385.90" y2="333.64" stroke="#111" stroke-width="1"/>
<text transform="translate(369.13,336.84) scale(0.8400,1)" font-size="9.4" stroke="#1c1c1c" stroke-width="0.3">100</text>
<line x1="383.30" y1="312.66" x2="385.90" y2="312.66" stroke="#111" stroke-width="1"/>
<text transform="translate(369.13,315.86) scale(0.8400,1)" font-size="9.4" stroke="#1c1c1c" stroke-width="0.3">150</text>
<line x1="383.30" y1="291.68" x2="385.90" y2="291.68" stroke="#111" stroke-width="1"/>
<text transform="translate(369.13,294.88) scale(0.8400,1)" font-size="9.4" stroke="#1c1c1c" stroke-width="0.3">200</text>
<line x1="383.30" y1="270.70" x2="385.90" y2="270.70" stroke="#111" stroke-width="1"/>
<text transform="translate(369.13,273.90) scale(0.8400,1)" font-size="9.4" stroke="#1c1c1c" stroke-width="0.3">250</text>
<line x1="385.90" y1="375.50" x2="476.80" y2="375.50" stroke="#111" stroke-width="1"/>
<line x1="408.50" y1="375.60" x2="408.50" y2="378.20" stroke="#111" stroke-width="1"/>
<text transform="translate(404.00,388.60) scale(0.8400,1)" font-size="9.4" stroke="#1c1c1c" stroke-width="0.3">24</text>
<line x1="453.70" y1="375.60" x2="453.70" y2="378.20" stroke="#111" stroke-width="1"/>
<text transform="translate(449.40,388.60) scale(0.8400,1)" font-size="9.4" stroke="#1c1c1c" stroke-width="0.3">48</text>
<text transform="translate(423.13,398.40) scale(0.8200,1)" font-size="9.6" stroke="#1c1c1c" stroke-width="0.3">Hours</text>
<line x1="400.20" y1="370.56" x2="400.20" y2="367.21" stroke="#111" stroke-width="1.0"/>
<line x1="397.95" y1="367.21" x2="402.45" y2="367.21" stroke="#111" stroke-width="1.0"/>
<rect x="394.40" y="370.56" width="11.60" height="5.04" fill="#000" />
<line x1="417.00" y1="343.71" x2="417.00" y2="336.16" stroke="#111" stroke-width="1.0"/>
<line x1="414.75" y1="336.16" x2="419.25" y2="336.16" stroke="#111" stroke-width="1.0"/>
<rect x="411.80" y="344.21" width="10.40" height="31.39" fill="#fff" stroke="#000" stroke-width="1.0" />
<line x1="445.00" y1="354.62" x2="445.00" y2="346.23" stroke="#111" stroke-width="1.0"/>
<line x1="442.75" y1="346.23" x2="447.25" y2="346.23" stroke="#111" stroke-width="1.0"/>
<rect x="439.20" y="354.62" width="11.60" height="20.98" fill="#000" />
<line x1="462.40" y1="301.33" x2="462.40" y2="282.45" stroke="#111" stroke-width="1.0"/>
<line x1="460.15" y1="282.45" x2="464.65" y2="282.45" stroke="#111" stroke-width="1.0"/>
<rect x="457.40" y="301.83" width="10.00" height="73.77" fill="#fff" stroke="#000" stroke-width="1.0" />
<path d="M398.7,339.2 V331.5 H416.9 V333.8" stroke="#111" stroke-width="1.0" fill="none"/>
<text transform="translate(406.35,331.60)" font-size="10.0" stroke="#1c1c1c" stroke-width="0.3">*</text>
<path d="M442.5,285.0 V276.9 H461.7 V280.0" stroke="#111" stroke-width="1.0" fill="none"/>
<text transform="translate(448.35,278.10) scale(0.7257,1)" font-size="10.0" stroke="#1c1c1c" stroke-width="0.3">***</text>
<rect x="395.00" y="295.30" width="9.90" height="4.20" fill="#000" />
<rect x="395.50" y="308.30" width="8.90" height="3.60" fill="#fff" stroke="#000" stroke-width="1.0" />
<text transform="translate(409.00,300.20) scale(0.8293,1)" font-size="9.6" stroke="#1c1c1c" stroke-width="0.3">A2780-par</text>
<text transform="translate(409.00,312.10) scale(0.8057,1)" font-size="9.6" stroke="#1c1c1c" stroke-width="0.3">A2780-res1</text>
<text transform="translate(362.30,352.05) rotate(-90) scale(0.8500,1)" font-size="9.6" stroke="#1c1c1c" stroke-width="0.3">NRG1 (pg/mL)</text>
<line x1="46.50" y1="450.00" x2="46.50" y2="556.50" stroke="#111" stroke-width="1"/>
<line x1="43.90" y1="556.50" x2="46.50" y2="556.50" stroke="#111" stroke-width="1"/>
<text transform="translate(37.49,559.70) scale(0.8400,1)" font-size="9.4" stroke="#1c1c1c" stroke-width="0.3">0</text>
<line x1="43.90" y1="521.10" x2="46.50" y2="521.10" stroke="#111" stroke-width="1"/>
<text transform="translate(33.07,524.30) scale(0.8400,1)" font-size="9.4" stroke="#1c1c1c" stroke-width="0.3">20</text>
<line x1="43.90" y1="485.70" x2="46.50" y2="485.70" stroke="#111" stroke-width="1"/>
<text transform="translate(33.07,488.90) scale(0.8400,1)" font-size="9.4" stroke="#1c1c1c" stroke-width="0.3">40</text>
<line x1="43.90" y1="450.30" x2="46.50" y2="450.30" stroke="#111" stroke-width="1"/>
<text transform="translate(33.07,453.50) scale(0.8400,1)" font-size="9.4" stroke="#1c1c1c" stroke-width="0.3">60</text>
<line x1="46.50" y1="556.50" x2="132.00" y2="556.50" stroke="#111" stroke-width="1"/>
<line x1="54.95" y1="556.50" x2="54.95" y2="558.90" stroke="#111" stroke-width="1"/>
<line x1="54.95" y1="554.73" x2="54.95" y2="553.85" stroke="#111" stroke-width="1.0"/>
<line x1="52.05" y1="553.85" x2="57.85" y2="553.85" stroke="#111" stroke-width="1.0"/>
<rect x="48.80" y="554.73" width="12.30" height="1.77" fill="#000" />
<text transform="translate(32.75,592.00) rotate(-45) scale(0.7500,1)" font-size="10.4" stroke="#1c1c1c" stroke-width="0.3">A2780-par</text>
<line x1="71.95" y1="556.50" x2="71.95" y2="558.90" stroke="#111" stroke-width="1"/>
<line x1="71.95" y1="555.44" x2="71.95" y2="555.08" stroke="#111" stroke-width="1.0"/>
<line x1="69.05" y1="555.08" x2="74.85" y2="555.08" stroke="#111" stroke-width="1.0"/>
<rect x="66.20" y="555.44" width="11.50" height="1.06" fill="#000" />
<text transform="translate(59.12,582.63) rotate(-45) scale(0.7500,1)" font-size="10.4" stroke="#1c1c1c" stroke-width="0.3">HeyA8</text>
<line x1="88.55" y1="556.50" x2="88.55" y2="558.90" stroke="#111" stroke-width="1"/>
<line x1="88.55" y1="490.30" x2="88.55" y2="472.43" stroke="#111" stroke-width="1.0"/>
<line x1="85.65" y1="472.43" x2="91.45" y2="472.43" stroke="#111" stroke-width="1.0"/>
<rect x="82.80" y="490.30" width="11.50" height="66.20" fill="#000" />
<text transform="translate(69.60,588.75) rotate(-45) scale(0.7500,1)" font-size="10.4" stroke="#1c1c1c" stroke-width="0.3">OVCAR8</text>
<line x1="105.40" y1="556.50" x2="105.40" y2="558.90" stroke="#111" stroke-width="1"/>
<line x1="105.40" y1="555.62" x2="105.40" y2="555.44" stroke="#111" stroke-width="1.0"/>
<line x1="102.50" y1="555.44" x2="108.30" y2="555.44" stroke="#111" stroke-width="1.0"/>
<rect x="99.60" y="555.62" width="11.60" height="0.88" fill="#000" />
<text transform="translate(80.77,594.43) rotate(-45) scale(0.7500,1)" font-size="10.4" stroke="#1c1c1c" stroke-width="0.3">SKOV3-par</text>
<line x1="121.80" y1="556.50" x2="121.80" y2="558.90" stroke="#111" stroke-width="1"/>
<line x1="121.80" y1="538.09" x2="121.80" y2="534.55" stroke="#111" stroke-width="1.0"/>
<line x1="118.90" y1="534.55" x2="124.70" y2="534.55" stroke="#111" stroke-width="1.0"/>
<rect x="115.80" y="538.09" width="12.00" height="18.41" fill="#000" />
<text transform="translate(93.37,598.23) rotate(-45) scale(0.7500,1)" font-size="10.4" stroke="#1c1c1c" stroke-width="0.3">SKOV3-OM3</text>
<text transform="translate(27.70,547.04) rotate(-90) scale(0.8408,1)" font-size="9.6" stroke="#1c1c1c" stroke-width="0.3"><tspan font-style="italic">ERBB3</tspan> mRNA expression</text>
<line x1="208.10" y1="451.60" x2="208.10" y2="555.90" stroke="#111" stroke-width="1"/>
<line x1="205.50" y1="555.90" x2="208.10" y2="555.90" stroke="#111" stroke-width="1"/>
<text transform="translate(200.19,559.10) scale(0.8400,1)" font-size="9.4" stroke="#1c1c1c" stroke-width="0.3">0</text>
<line x1="205.50" y1="521.30" x2="208.10" y2="521.30" stroke="#111" stroke-width="1"/>
<text transform="translate(193.64,524.50) scale(0.8400,1)" font-size="9.4" stroke="#1c1c1c" stroke-width="0.3">0.5</text>
<line x1="205.50" y1="486.70" x2="208.10" y2="486.70" stroke="#111" stroke-width="1"/>
<text transform="translate(200.27,489.90) scale(0.8400,1)" font-size="9.4" stroke="#1c1c1c" stroke-width="0.3">1</text>
<line x1="205.50" y1="452.10" x2="208.10" y2="452.10" stroke="#111" stroke-width="1"/>
<text transform="translate(193.64,455.30) scale(0.8400,1)" font-size="9.4" stroke="#1c1c1c" stroke-width="0.3">1.5</text>
<line x1="208.10" y1="555.90" x2="304.70" y2="555.90" stroke="#111" stroke-width="1"/>
<line x1="217.90" y1="555.90" x2="217.90" y2="558.30" stroke="#111" stroke-width="1"/>
<line x1="217.90" y1="544.14" x2="217.90" y2="543.44" stroke="#111" stroke-width="1.0"/>
<line x1="215.40" y1="543.44" x2="220.40" y2="543.44" stroke="#111" stroke-width="1.0"/>
<rect x="211.20" y="544.14" width="13.40" height="11.76" fill="#000" />
<text transform="translate(195.70,591.40) rotate(-45) scale(0.7500,1)" font-size="10.4" stroke="#1c1c1c" stroke-width="0.3">A2780-par</text>
<line x1="237.10" y1="555.90" x2="237.10" y2="558.30" stroke="#111" stroke-width="1"/>
<line x1="237.10" y1="546.21" x2="237.10" y2="545.52" stroke="#111" stroke-width="1.0"/>
<line x1="234.60" y1="545.52" x2="239.60" y2="545.52" stroke="#111" stroke-width="1.0"/>
<rect x="230.40" y="546.21" width="13.40" height="9.69" fill="#000" />
<text transform="translate(224.27,582.03) rotate(-45) scale(0.7500,1)" font-size="10.4" stroke="#1c1c1c" stroke-width="0.3">HeyA8</text>
<line x1="256.35" y1="555.90" x2="256.35" y2="558.30" stroke="#111" stroke-width="1"/>
<line x1="256.35" y1="490.85" x2="256.35" y2="479.78" stroke="#111" stroke-width="1.0"/>
<line x1="253.85" y1="479.78" x2="258.85" y2="479.78" stroke="#111" stroke-width="1.0"/>
<rect x="249.50" y="490.85" width="13.70" height="65.05" fill="#000" />
<text transform="translate(237.40,588.15) rotate(-45) scale(0.7500,1)" font-size="10.4" stroke="#1c1c1c" stroke-width="0.3">OVCAR8</text>
<line x1="275.60" y1="555.90" x2="275.60" y2="558.30" stroke="#111" stroke-width="1"/>
<line x1="275.60" y1="537.22" x2="275.60" y2="528.91" stroke="#111" stroke-width="1.0"/>
<line x1="273.10" y1="528.91" x2="278.10" y2="528.91" stroke="#111" stroke-width="1.0"/>
<rect x="268.90" y="537.22" width="13.40" height="18.68" fill="#000" />
<text transform="translate(250.97,593.83) rotate(-45) scale(0.7500,1)" font-size="10.4" stroke="#1c1c1c" stroke-width="0.3">SKOV3-par</text>
<line x1="294.80" y1="555.90" x2="294.80" y2="558.30" stroke="#111" stroke-width="1"/>
<line x1="294.80" y1="477.70" x2="294.80" y2="474.24" stroke="#111" stroke-width="1.0"/>
<line x1="292.30" y1="474.24" x2="297.30" y2="474.24" stroke="#111" stroke-width="1.0"/>
<rect x="288.10" y="477.70" width="13.40" height="78.20" fill="#000" />
<text transform="translate(266.37,597.63) rotate(-45) scale(0.7500,1)" font-size="10.4" stroke="#1c1c1c" stroke-width="0.3">SKOV3-OM3</text>
<text transform="translate(176.60,536.29) rotate(-90) scale(0.8000,1)" font-size="9.6" stroke="#1c1c1c" stroke-width="0.3">IC</text>
<text transform="translate(179.80,527.41) rotate(-90) scale(0.7777,1)" font-size="6.8" stroke="#1c1c1c" stroke-width="0.2">50</text>
<text transform="translate(176.60,520.73) rotate(-90) scale(0.8633,1)" font-size="9.6" stroke="#1c1c1c" stroke-width="0.3">concentration</text>
<text transform="translate(190.80,540.73) rotate(-90) scale(0.8547,1)" font-size="9.6" stroke="#1c1c1c" stroke-width="0.3">of KPT-185 (μmol/L)</text>
</svg>
</body></html>
